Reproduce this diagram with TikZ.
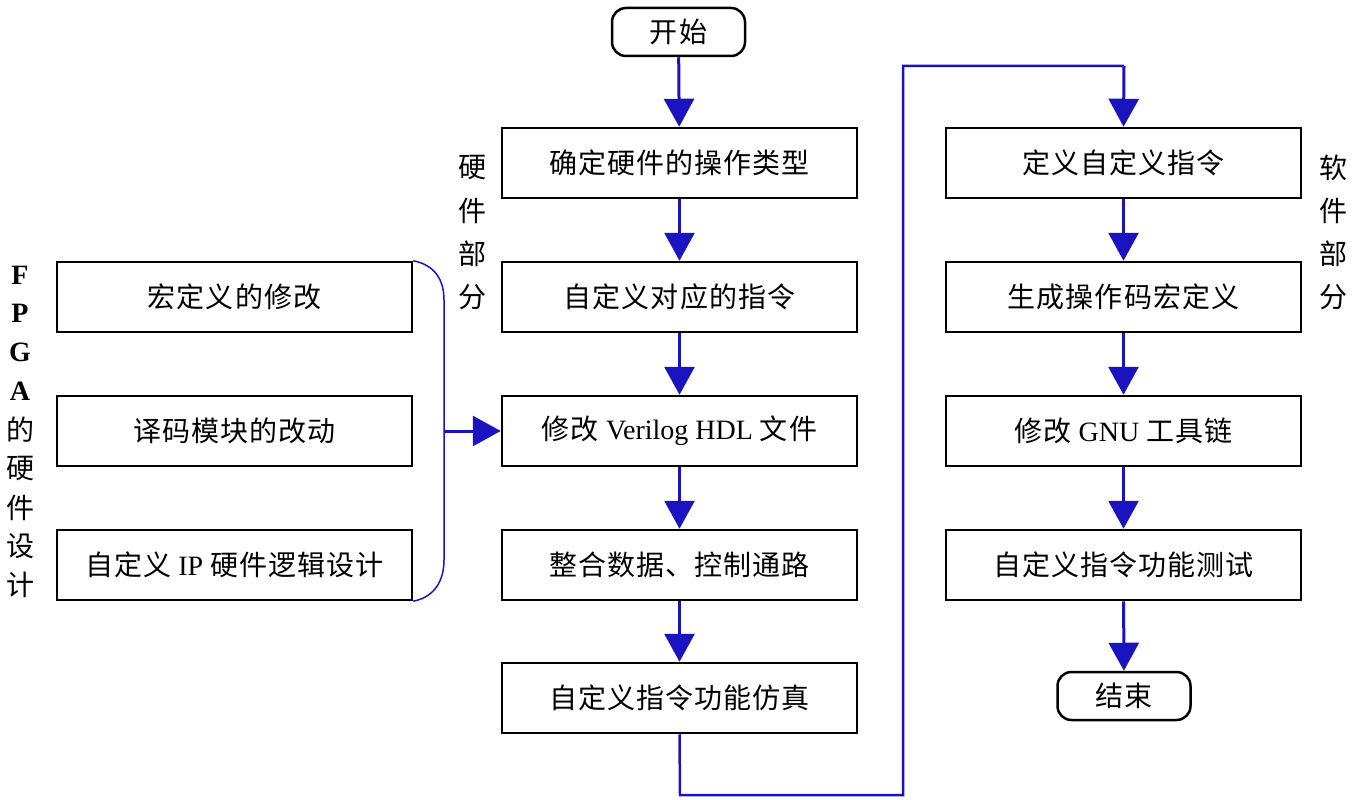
\documentclass[tikz,border=0pt]{standalone}
\usepackage{fontspec}
\setmainfont{Liberation Serif}
\newfontfamily\cjk{Noto Sans CJK SC}[LetterSpace=4]
\usetikzlibrary{arrows.meta}
\definecolor{ab}{HTML}{1A14C0}
\begin{document}
\begin{tikzpicture}[x=1pt,y=-1pt,
 box/.style={draw,line width=2.5pt,minimum width=355pt,minimum height=70pt,inner sep=0pt,font=\fontsize{28}{30}\selectfont},
 term/.style={draw,line width=2.5pt,rounded corners=14pt,minimum width=133pt,minimum height=48pt,font=\fontsize{28}{30}\selectfont},
 arr/.style={ab,line width=3pt,-{Triangle[length=28pt,width=30pt]}},
 ln/.style={ab,line width=2.5pt},
 vt/.style={font=\fontsize{28}{30}\selectfont}]
\useasboundingbox (0,0) rectangle (1353,800);
\node[term] (s) at (678.5,32) {\cjk 开始};
\node[box] (m1) at (679.5,163) {\cjk 确定硬件的操作类型};
\node[box] (m2) at (679.5,297) {\cjk 自定义对应的指令};
\node[box] (m3) at (679.5,431) {{\cjk 修改} Verilog HDL {\cjk 文件}};
\node[box] (m4) at (679.5,565) {\cjk 整合数据、控制通路};
\node[box] (m5) at (679.5,698) {\cjk 自定义指令功能仿真};
\node[box] (r1) at (1123.5,163) {\cjk 定义自定义指令};
\node[box] (r2) at (1123.5,297) {\cjk 生成操作码宏定义};
\node[box] (r3) at (1123.5,431) {{\cjk 修改} GNU {\cjk 工具链}};
\node[box] (r4) at (1123.5,565) {\cjk 自定义指令功能测试};
\node[term] (e) at (1124,696) {\cjk 结束};
\node[box] (l1) at (234.5,297) {\cjk 宏定义的修改};
\node[box] (l2) at (234.5,431) {\cjk 译码模块的改动};
\node[box] (l3) at (234.5,565) {{\cjk 自定义} IP {\cjk 硬件逻辑设计}};
\draw[arr] (s) -- (m1);
\draw[arr] (m1) -- (m2);
\draw[arr] (m2) -- (m3);
\draw[arr] (m3) -- (m4);
\draw[arr] (m4) -- (m5);
\coordinate (c1) at (680,795);
\coordinate (c2) at (903,795);
\coordinate (c3) at (903,66);
\coordinate (c4) at (1124,66);
\draw[ln] (m5.south) -- (c1) -- (c2) -- (c3) -- (c4);
\draw[arr] (c4) -- (r1.north);
\draw[arr] (r1) -- (r2);
\draw[arr] (r2) -- (r3);
\draw[arr] (r3) -- (r4);
\draw[arr] (r4) -- (e);
\coordinate (b) at (444,431);
\draw[ln,line width=1.5pt] (l1.north east) .. controls (435,265) and (444,280) .. (444,300) -- (444,560) .. controls (444,580) and (435,597) .. (l3.south east);
\draw[arr] (b) -- (m3.west);
\foreach \t [count=\i] in {硬,件,部,分} \node[vt] at (472,125+43*\i) {\cjk \t};
\foreach \t [count=\i] in {软,件,部,分} \node[vt] at (1333,125+43*\i) {\cjk \t};
\foreach \t [count=\i] in {F,P,G,A} \node[vt] at (20,236.25+38.75*\i) {\textbf{\t}};
\foreach \t [count=\i] in {的,硬,件,设,计} \node[vt] at (20,391.25+38.75*\i) {\cjk \t};
\end{tikzpicture}
\end{document}
